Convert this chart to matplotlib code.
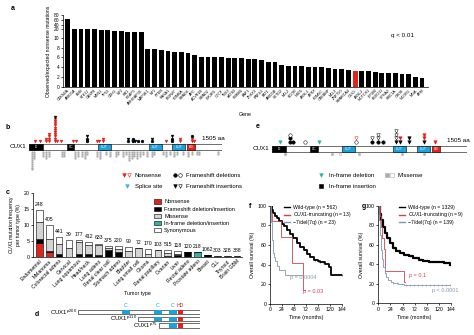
import matplotlib
matplotlib.use("Agg")
import matplotlib.pyplot as plt
import numpy as np
from matplotlib.patches import Rectangle, Patch
from matplotlib.lines import Line2D
from matplotlib.legend_handler import HandlerTuple
from matplotlib.ticker import FixedLocator

plt.rcParams['font.family'] = ['Liberation Sans', 'DejaVu Sans']
plt.rcParams['mathtext.fontset'] = 'custom'
plt.rcParams['mathtext.rm'] = 'Liberation Sans'
plt.rcParams['mathtext.it'] = 'Liberation Sans:italic'
plt.rcParams['axes.linewidth'] = 0.5
for a in ('xtick', 'ytick'):
    plt.rcParams[a + '.major.width'] = 0.5
    plt.rcParams[a + '.major.size'] = 1.5
    plt.rcParams[a + '.major.pad'] = 1.0

RED = '#e2231a'
BLUE = '#1ba1dc'
TEAL = '#2db3a5'
CYAN = '#33b5e5'
GREY = '#ababab'
LIGHT = '#d4d4d4'
KM_RED = '#cf4450'
KM_GREY = '#8497ad'

# ---- panel a data
genes = ['CDKN2A', 'ARID1A', 'B2M', 'STK11', 'CASP8', 'MEN1', 'TP53', 'CDH1', 'NF2',
         'RB1', 'KEAP1', 'ARHGAP35', 'MAP3K1', 'NF1', 'PTEN', 'RASA1', 'FBXW7', 'KDM6A',
         'SMAD4', 'APC', 'ACVR1B', 'SMAD2', 'PIK3R1', 'CTCF', 'TBX3', 'LATS2', 'PBRM1',
         'BAP1', 'ZFHX3', 'RNF43', 'FAT1', 'ARID1B', 'SETD2', 'MLL2', 'BCOR', 'NSD1',
         'ASXL1', 'ATRX', 'KDM5C', 'CREBBP', 'MLL3', 'ZNF750', 'SMARCA4', 'CUX1', 'ASXL2',
         'NOTCH1', 'EP300', 'FBXO11', 'EPHA2', 'SMC1A', 'CHD8', 'NCOR1', 'MGA', 'ATM']
ratio = [65, 21, 20.5, 20.3, 20, 19.5, 19.3, 18, 17.5, 17.2, 17, 16.8, 7.8, 7.75, 7.55,
         7.3, 7.07, 7.05, 6.94, 6.46, 6.12, 6.05, 6.0, 6.0, 5.9, 5.85, 5.78, 5.71, 5.65,
         5.44, 5.17, 5.17, 4.49, 4.29, 4.29, 4.22, 4.15, 4.01, 4.01, 3.88, 3.74, 3.67,
         3.47, 3.33, 3.2, 3.2, 2.99, 2.93, 2.93, 2.86, 2.72, 2.59, 1.97, 1.77]
a_yticks = [0, 2, 4, 6, 8, 10, 20, 40, 60, 80]

# ---- protein domains (aa)
prot_len = 1505
dom_start = [0, 297, 540, 935, 1120, 1236]
dom_end = [108, 352, 640, 1037, 1220, 1298]
dom_name = ['ID', 'CC', 'CUT', 'CUT', 'CUT', 'HD']
dom_color = ['black', 'black', BLUE, BLUE, BLUE, RED]

# ---- panel b mutations (aa, count)
b_nonsense = [(44, 1), (83, 1), (128, 2), (154, 4), (201, 11), (219, 1), (248, 1), (344, 1),
              (365, 1), (527, 1), (548, 1), (579, 2), (1067, 1), (1179, 2), (1270, 2), (1291, 1)]
b_splice = [(800, 1)]
b_fs_del = [(454, 2), (769, 1), (808, 2), (848, 1), (879, 1), (957, 1), (1114, 2), (1270, 1)]
b_fs_ins = [(201, 1), (454, 1), (769, 1), (830, 1), (957, 1), (1114, 1)]
b_missense = [(18, 10), (39, 4), (110, 3), (128, 4), (154, 3), (253, 3), (274, 3), (357, 4),
              (378, 3), (409, 3), (436, 4), (454, 2), (527, 3), (553, 4), (600, 2), (631, 3),
              (675, 3), (696, 2), (730, 3), (756, 2), (782, 5), (801, 4), (821, 3), (845, 4),
              (866, 3), (892, 2), (918, 3), (960, 3), (978, 2), (1048, 2), (1067, 3), (1101, 2),
              (1132, 3), (1153, 2), (1200, 2), (1239, 3), (1270, 2), (1309, 2), (1330, 2), (1479, 2)]

# ---- panel e mutations (aa, count)
e_fs_del = [(136, 2), (160, 1), (772, 1), (818, 1), (857, 1)]
e_fs_del_open = [(136, 1), (257, 1), (651, 1)]
e_inframe_del = [(59, 1), (360, 1)]
e_fs_ins = [(957, 1), (990, 1), (1060, 2), (1171, 1)]
e_fs_ins_open = [(772, 1), (818, 2), (957, 3)]
e_nonsense = [(990, 1), (1171, 2), (1261, 1)]
e_nonsense_open = [(651, 1)]
e_missense = [(103, 1), (463, 1), (669, 1), (1003, 1), (1171, 1)]
e_missense_open = [(522, 1)]

# ---- panel c data
tumors = ['Endometrial', 'Melanoma', 'Colorectal adeno', 'Cervical', 'Lung squamous',
          'Head/neck', 'Lung adeno', 'Renal clear cell', 'Stomach adeno', 'Bladder',
          'Lung small cell', 'Glioma', 'Renal papillary', 'Ovarian', 'Liver', 'Rectal adeno',
          'Prostate adeno', 'Breast', 'CLL', 'Thyroid', 'Brain GBM']
n_samples = [248, 405, 441, 39, 177, 412, 633, 375, 220, 99, 72, 170, 103, 515, 118, 120,
             218, 1062, 303, 328, 388]
c_nonsense = [4.4, 1.4, 0, 0, 0.3, 0.3, 0.1, 0, 0, 0, 0, 0, 0, 0, 0, 0, 0, 0, 0, 0, 0]
c_frameshift = [1.0, 0.5, 0.9, 0, 0.7, 0.7, 0.4, 2.0, 1.4, 0, 0, 0, 0, 0.2, 0.5, 1.5, 0, 0.4, 0, 0, 0]
c_inframe = [0, 0, 0, 0, 0, 0, 0, 0, 0, 0, 0, 0, 0, 0, 0, 0, 1.4, 0, 0, 0, 0]
c_missense = [5.5, 3.5, 3.1, 2.6, 3.6, 2.6, 3.1, 0.6, 0.9, 1.8, 2.8, 1.0, 2.0, 1.0, 0.5, 0,
              0, 0.2, 0.25, 0.2, 0.2]
c_synonymous = [3.6, 4.5, 2.2, 2.5, 0.5, 1.0, 0.5, 0.8, 1.0, 1.2, 0, 1.3, 0, 0.8, 0.7, 0,
                0, 0, 0, 0, 0]

# ---- panel d isoforms
iso_names = ['CUX1$^{\\mathrm{p200}}$', 'CUX1$^{\\mathrm{p110}}$', 'CUX1$^{\\mathrm{p75}}$']
iso_start = [0, 740, 1000]

# ---- panel f survival
f_wt_t = [0, 3, 6, 9, 13, 18, 24, 27, 33, 40, 46, 53, 60, 67, 74, 80, 87, 95, 100, 110, 117, 122, 143]
f_wt_s = [100, 96, 93, 90, 87, 84, 81, 79, 75, 71, 67, 62, 58, 55, 51, 48, 45, 44, 43, 41, 38, 30, 30]
f_wt_cens = [85, 90, 95, 100, 105, 143]
f_cux_t = [0, 2, 4, 22, 44, 66, 70]
f_cux_s = [100, 92, 84, 68, 42, 14, 14]
f_del_t = [0, 1, 2, 3, 4, 5, 6, 8, 10, 14, 18, 30, 40, 66]
f_del_s = [100, 91, 83, 74, 65, 57, 52, 48, 44, 39, 35, 30, 30, 30]

# ---- panel g survival
g_wt_t = [0, 3, 6, 9, 13, 18, 23, 30, 36, 43, 50, 60, 69, 80, 89, 100, 115, 130, 142]
g_wt_s = [100, 92, 85, 78, 72, 67, 62, 57, 53.5, 51.5, 50, 48, 46, 44.5, 43.5, 42.5, 42, 41, 39.5]
g_cux_t = [0, 3, 6, 8, 12, 14, 50, 52]
g_cux_s = [100, 89, 78, 67, 56, 33, 22, 22]
g_del_t = [0, 2, 4, 6, 8, 10, 13, 16, 20, 25, 30, 40, 50, 144]
g_del_s = [100, 85, 70, 55, 45, 37, 31, 27, 24, 22, 21, 20, 19, 18]
g_del_cens = [30, 38, 46, 54, 62, 70, 78, 86, 94, 102, 110, 118, 126, 134, 142]

W, H = 474, 335


def rect(x0, y0, x1, y1):
    return [x0 / W, 1 - y1 / H, (x1 - x0) / W, (y1 - y0) / H]


fig = plt.figure(figsize=(W / 100, H / 100), dpi=100)

# panel labels
for lab, x, y in [('a', 13, 8), ('b', 8, 128), ('c', 8, 193), ('d', 37, 314),
                  ('e', 258, 126), ('f', 250, 206), ('g', 364, 206)]:
    fig.text(x / W, 1 - y / H, lab, fontsize=5, fontweight='bold', ha='center', va='center')

# ================= panel a
ax = fig.add_axes(rect(63, 15, 428, 87))
fwd = lambda y: np.interp(y, [0, 10, 20, 80], [0, 10, 11.7, 14.6])
inv = lambda v: np.interp(v, [0, 10, 11.7, 14.6], [0, 10, 20, 80])
ax.set_yscale('function', functions=(fwd, inv))
colors_a = [RED if g == 'CUX1' else 'black' for g in genes]
ax.bar(range(len(genes)), ratio, width=0.72, color=colors_a)
ax.set_ylim(0, 80)
ax.set_xlim(-0.7, len(genes) - 0.1)
ax.yaxis.set_major_locator(FixedLocator(a_yticks))
ax.set_yticklabels([str(t) for t in a_yticks], fontsize=3.5)
ax.yaxis.set_minor_locator(FixedLocator([]))
ax.set_xticks(range(len(genes)))
ax.set_xticklabels(genes, rotation=45, ha='right', rotation_mode='anchor', fontsize=2.7)
ax.tick_params(axis='x', length=0, pad=1)
ax.spines[['top', 'right']].set_visible(False)
ax.set_ylabel('Observed/expected nonsense mutations', fontsize=3.6, labelpad=2)
ax.set_xlabel('Gene', fontsize=3.8, labelpad=5)
fig.text(402 / W, 1 - 36 / H, 'q < 0.01', fontsize=4.5, ha='center', va='center')


# ================= protein diagrams
def draw_protein(ax, label):
    ax.add_patch(Rectangle((0, -3), prot_len, 6, facecolor='white', edgecolor='black', lw=0.4, zorder=2))
    for s, e, n, c in zip(dom_start, dom_end, dom_name, dom_color):
        ax.add_patch(Rectangle((s, -3), e - s, 6, facecolor=c, edgecolor='black', lw=0.4, zorder=3))
        ax.text((s + e) / 2, 0, n, color='white', fontsize=2.4, ha='center', va='center', zorder=4)
    ax.text(-25, 0, label, fontsize=4.5, ha='right', va='center')
    ax.text(1525, 8, '1505 aa', fontsize=4.5, ha='right', va='center')
    ax.set_xlim(0, prot_len)
    ax.set_ylim(-25, 35)
    ax.axis('off')


def stack(ax, groups, base, step, ms):
    level = {}
    for data, marker, face, edge in groups:
        for pos, cnt in data:
            for _ in range(cnt):
                k = level.get(pos, 0)
                ax.plot(pos, base + step * k, marker=marker, ls='none', ms=ms, mfc=face,
                        mec=edge, mew=0.35, zorder=5)
                level[pos] = k + 1


ax = fig.add_axes(rect(29.3, 112, 221.7, 172))
draw_protein(ax, 'CUX1')
stack(ax, [(b_nonsense, 'v', RED, RED), (b_splice, 'v', CYAN, CYAN),
           (b_fs_del, 'o', 'black', 'black'), (b_fs_ins, 'v', 'black', 'black')], 6.3, 2.2, 2.0)
stack(ax, [(b_missense, 's', GREY, GREY)], -5.3, -1.9, 1.0)

ax = fig.add_axes(rect(272, 113.5, 467, 173.5))
draw_protein(ax, 'CUX1')
stack(ax, [(e_fs_del, 'o', 'black', 'black'), (e_fs_del_open, 'o', 'white', 'black'),
           (e_inframe_del, 'v', TEAL, TEAL), (e_fs_ins, 'v', 'black', 'black'),
           (e_fs_ins_open, 'v', 'white', 'black'), (e_nonsense, 'v', RED, RED),
           (e_nonsense_open, 'v', 'white', RED)], 6.8, 3.6, 2.5)
stack(ax, [(e_missense, 's', GREY, GREY), (e_missense_open, 's', 'white', GREY)], -5.5, -2.0, 1.4)


# mutation legends
def mk(marker, face, edge, ms=2.6):
    return Line2D([], [], marker=marker, ls='none', ms=ms, mfc=face, mec=edge, mew=0.4)


leg_kw = dict(loc='upper left', frameon=False, fontsize=4.3, borderpad=0, handletextpad=0.5,
              labelspacing=0.95, handlelength=1.6,
              handler_map={tuple: HandlerTuple(ndivide=None, pad=0.2)})
fig.legend([(mk('v', RED, RED), mk('v', 'white', RED)), mk('v', CYAN, CYAN)],
           ['Nonsense', 'Splice site'], bbox_to_anchor=(119 / W, 1 - 170 / H), **leg_kw)
fig.legend([(mk('o', 'black', 'black'), mk('o', 'white', 'black')),
            (mk('v', 'black', 'black'), mk('v', 'white', 'black'))],
           ['Frameshift deletions', 'Frameshift insertions'], bbox_to_anchor=(170 / W, 1 - 170 / H), **leg_kw)
fig.legend([mk('v', TEAL, TEAL), mk('s', 'black', 'black')],
           ['In-frame deletion', 'In-frame insertion'], bbox_to_anchor=(313 / W, 1 - 170 / H), **leg_kw)
fig.legend([(mk('s', GREY, GREY), mk('s', 'white', GREY))], ['Missense'],
           bbox_to_anchor=(382 / W, 1 - 170 / H), **leg_kw)

# ================= panel c
ax = fig.add_axes(rect(33, 192.7, 242, 256.7))
x = np.arange(len(tumors))
bottom = np.zeros(len(tumors))
for vals, col in [(c_nonsense, RED), (c_frameshift, 'black'), (c_inframe, TEAL),
                  (c_missense, LIGHT), (c_synonymous, 'white')]:
    v = np.array(vals)
    ax.bar(x, v, bottom=bottom, width=0.68, color=col, edgecolor='black', lw=0.4)
    bottom += v
for i, n in enumerate(n_samples):
    ax.text(i, bottom[i] + 1.0, str(n), ha='center', va='bottom', fontsize=3.7)
ax.set_xlim(-0.64, len(tumors) - 0.5)
ax.set_ylim(0, 20)
ax.set_yticks([0, 5, 10, 15, 20])
ax.tick_params(axis='y', labelsize=3.8)
ax.set_xticks(x)
ax.set_xticklabels(tumors, rotation=45, ha='right', rotation_mode='anchor', fontsize=3.7)
ax.tick_params(axis='x', length=0, pad=1.5)
ax.spines[['top', 'right']].set_visible(False)
ax.set_ylabel('$\\it{CUX1}$ mutation frequency\nper tumor type (%)', fontsize=3.6, labelpad=2,
              linespacing=1.0)
ax.set_xlabel('Tumor type', fontsize=3.8, labelpad=1)
c_handles = [Patch(facecolor=c, edgecolor='black', lw=0.4) for c in (RED, 'black', LIGHT, TEAL, 'white')]
fig.legend(c_handles, ['Nonsense', 'Frameshift deletion/insertion', 'Missense',
                       'In-frame deletion/insertion', 'Synonymous'],
           loc='upper left', bbox_to_anchor=(151 / W, 1 - 196.5 / H), frameon=False, fontsize=4.1,
           borderpad=0, handlelength=1.3, handleheight=0.75, handletextpad=0.5, labelspacing=0.38)

# ================= panel d
ax = fig.add_axes(rect(78, 300, 200, 330))
for row, (name, st) in enumerate(zip(iso_names, iso_start)):
    ax.add_patch(Rectangle((st, row - 0.33), prot_len - st, 0.66, facecolor='white',
                           edgecolor='black', lw=0.4))
    for s, e, n, c in zip(dom_start[2:], dom_end[2:], dom_name[2:], dom_color[2:]):
        if s >= st:
            ax.add_patch(Rectangle((s, row - 0.33), e - s, 0.66, facecolor=c, edgecolor='none'))
            if row == 0:
                ax.text((s + e) / 2, -0.55, 'C' if n == 'CUT' else n, fontsize=3.8,
                        color=BLUE if n == 'CUT' else RED, ha='center', va='bottom')
    ax.text(st - 15, row, name, fontsize=4.3, ha='right', va='center')
ax.set_xlim(0, prot_len)
ax.set_ylim(2.67, -1.78)
ax.axis('off')


# ================= panels f and g
def km(ax, curves, legend_x, labels):
    handles = []
    for t, s, col, lw, cens in curves:
        ax.step(t, s, where='post', color=col, lw=lw)
        if cens is not None:
            ax.plot(cens, [s[np.searchsorted(t, c, side='right') - 1] for c in cens],
                    ls='none', marker='|', ms=1.8, mew=0.4, color=col)
        handles.append(Line2D([], [], color=col, lw=1.0))
    ax.set_xlim(0, 144)
    ax.set_ylim(0, 100)
    ax.set_xticks(np.arange(0, 145, 24))
    ax.set_yticks(np.arange(0, 101, 20))
    ax.tick_params(labelsize=3.8)
    ax.spines[['top', 'right']].set_visible(False)
    ax.set_xlabel('Time (months)', fontsize=3.8, labelpad=2)
    ax.set_ylabel('Overall survival (%)', fontsize=3.8, labelpad=1.5)
    fig.legend(handles, labels, loc='upper left', bbox_to_anchor=(legend_x / W, 1 - 202 / H),
               frameon=False, fontsize=3.7, borderpad=0, handlelength=1.3, handletextpad=0.5,
               labelspacing=0.15)


ax = fig.add_axes(rect(270, 205.7, 342, 304))
km(ax, [(f_wt_t, f_wt_s, 'black', 1.3, f_wt_cens), (f_cux_t, f_cux_s, KM_RED, 0.6, None),
        (f_del_t, f_del_s, KM_GREY, 0.6, None)], 281,
   ['Wild-type (n = 562)', '$\\it{CUX1}$-truncating (n = 13)', '\u22127/del(7q) (n = 23)'])
ax.text(40, 27, 'p = 0.0004', color=KM_GREY, fontsize=4.0, va='center')
ax.text(66, 13, 'p = 0.03', color=KM_RED, fontsize=4.0, va='center')

ax = fig.add_axes(rect(378.3, 205.7, 451, 303.3))
km(ax, [(g_wt_t, g_wt_s, 'black', 1.6, None), (g_cux_t, g_cux_s, KM_RED, 0.6, None),
        (g_del_t, g_del_s, KM_GREY, 0.6, g_del_cens)], 396,
   ['Wild-type (n = 1329)', '$\\it{CUX1}$-truncating (n = 9)', '\u22127/del(7q) (n = 139)'])
ax.text(60, 28, 'p = 0.1', color=KM_RED, fontsize=4.0, va='center')
ax.text(107, 13.5, 'p < 0.0001', color=KM_GREY, fontsize=4.0, va='center')

fig.savefig('out.png', dpi=100)
